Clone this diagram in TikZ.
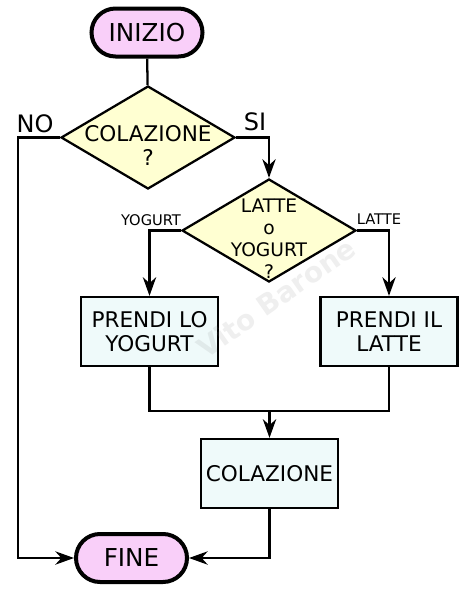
\documentclass[tikz,border=0pt]{standalone}
\usepackage{fontspec}
\setmainfont{DejaVu Sans}
\usetikzlibrary{shapes.geometric, shapes.misc, arrows.meta}

\definecolor{rosa}{HTML}{F9CFF9}
\definecolor{giallo}{HTML}{FFFFD2}
\definecolor{azzurro}{HTML}{EFFAFA}

\begin{document}
\begin{tikzpicture}[x=0.75pt,y=-0.75pt,>={Stealth[length=14pt,width=10pt,inset=4.5pt]},line width=1.7pt,
  terminale/.style={rounded rectangle, draw, line width=3pt, fill=rosa, minimum width=111*\pxl, minimum height=48*\pxl, inner sep=0pt, font=\fontsize{18.5}{21}\selectfont},
  decisione/.style={diamond, draw, fill=giallo, minimum width=174*\pxl, minimum height=103*\pxl, inner sep=0pt},
  azione/.style={rectangle, draw, fill=azzurro, minimum width=137*\pxl, minimum height=69*\pxl, align=center, inner sep=0pt, font=\fontsize{16.2}{17.5}\selectfont},
  testo/.style={align=center, font=\fontsize{16.2}{18}\selectfont, yshift=-6pt},
  ramo/.style={font=\fontsize{18}{21}\selectfont},
  ramino/.style={font=\fontsize{11}{12}\selectfont}]
  \def\pxl{0.75pt};
  \useasboundingbox (0,0) rectangle (474,594); % 画像と同じ大きさ

  \node(inizio) at (147,32.5) [terminale]{INIZIO};
  \node(dom1) at (148,137.5) [decisione, label={[testo]center:COLAZIONE\\?}]{};
  \node(dom2) at (269,230.5) [decisione, label={[testo, font=\fontsize{14}{16.5}\selectfont]center:LATTE\\o\\YOGURT\\?}]{};
  \node(yogurt) at (149.5,331.5) [azione]{PRENDI LO\\YOGURT};
  \node(latte) at (389,331.5) [azione]{PRENDI IL\\LATTE};
  \node(colazione) at (269.5,473.5) [azione]{COLAZIONE};
  \node(fine) at (131.5,558) [terminale]{FINE};

  \coordinate (no) at (18,137.5); % NO の折れ点
  \coordinate (unione) at (269.5,411); % 合流点

  \node(lno) at (35,124) [ramo]{NO};
  \node(lsi) at (255,122) [ramo]{SI};
  \node(lyog) at (151,220) [ramino]{YOGURT};
  \node(llat) at (379,219) [ramino]{LATTE};

  \draw (inizio) -- (dom1);
  \draw[->] (dom1.east) -| (dom2.north);
  \draw[->] (dom1.west) -- (no) |- (fine.west);
  \draw[->] (dom2.west) -| (yogurt.north);
  \draw[->] (dom2.east) -| (latte.north);
  \draw (yogurt.south) |- (unione) -| (latte.south);
  \draw[->] (unione) -- (colazione.north);
  \draw[->] (colazione.south) |- (fine.east);

  \node(firma) at (276,298) [rotate=35, text=gray, opacity=0.13, font=\bfseries\fontsize{21}{24}\selectfont]{Vito Barone}; % 透かし
\end{tikzpicture}
\end{document}
